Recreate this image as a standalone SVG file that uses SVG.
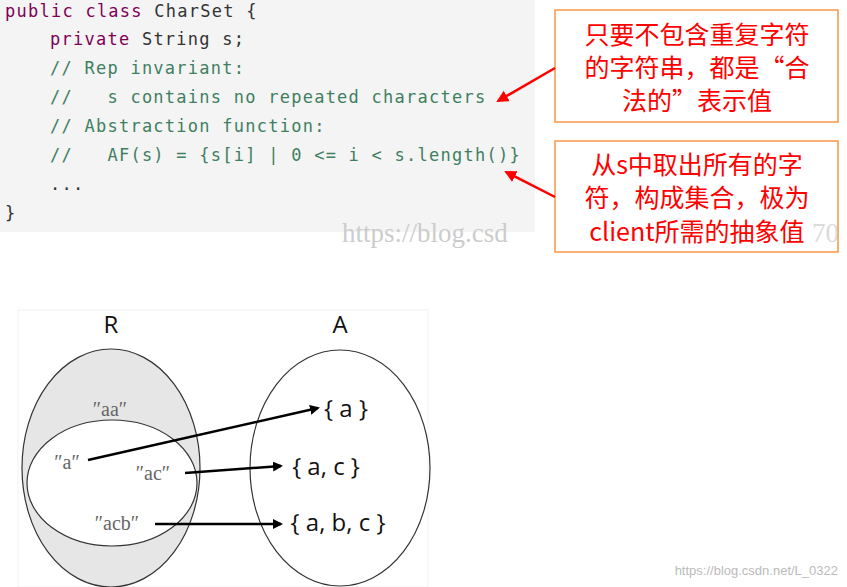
<svg xmlns="http://www.w3.org/2000/svg" width="847" height="587" viewBox="0 0 847 587">
<style>
.code{font-family:"DejaVu Sans Mono",monospace;font-size:17px;letter-spacing:1.25px;fill:#333}
.kw{fill:#7f0055}.cm{fill:#3f7f5f}
.box{fill:#fff;stroke:#f79646;stroke-width:1.5}
.cn{font-family:"Noto Sans CJK SC",sans-serif;font-size:25px;fill:#f00;text-anchor:middle}
.lbl{font-family:"Open Sans","Noto Sans",sans-serif;font-size:24px;fill:#111;text-anchor:middle}
.el{font-family:"Liberation Serif",serif;font-size:20px;fill:#666;text-anchor:middle}
.ar{stroke:#000;stroke-width:2.5;fill:none}
.rar{stroke:#f00;stroke-width:2.5;fill:none}
</style>
<defs>
<marker id="ah" markerWidth="10" markerHeight="10" refX="8" refY="5" orient="auto" markerUnits="userSpaceOnUse"><path d="M0,0L10,5L0,10z" fill="#000"/></marker>
<marker id="rh" markerWidth="12" markerHeight="12" refX="10" refY="6" orient="auto" markerUnits="userSpaceOnUse"><path d="M0,0L12,6L0,12z" fill="#f00"/></marker>
</defs>
<rect width="847" height="587" fill="#fff"/>
<rect x="0" y="0" width="535" height="232" fill="#f4f4f4"/>
<g id="code">
<text class="code" x="5" y="17"><tspan class="kw">public class</tspan> CharSet {</text>
<text class="code" x="50" y="45"><tspan class="kw">private</tspan> String s;</text>
<text class="code cm" x="50" y="74">// Rep invariant:</text>
<text class="code cm" x="50" y="103" xml:space="preserve">//   s contains no repeated characters</text>
<text class="code cm" x="50" y="132">// Abstraction function:</text>
<text class="code cm" x="50" y="161" xml:space="preserve">//   AF(s) = {s[i] | 0 &lt;= i &lt; s.length()}</text>
<text class="code" x="50" y="190">...</text>
<text class="code" x="5" y="219">}</text>
</g>
<text x="342" y="242" font-family="Liberation Serif,serif" font-size="27" fill="#ccc">https://blog.csd</text>
<g id="box1"><rect class="box" x="555" y="10" width="283" height="112"/>
<text class="cn" x="697" y="44">只要不包含重复字符</text>
<text class="cn" x="697" y="77">的字符串，都是“合</text>
<text class="cn" x="697" y="110">法的”表示值</text></g>
<g id="box2"><rect class="box" x="555" y="141" width="283" height="111"/>
<text class="cn" x="697" y="174">从s中取出所有的字</text>
<text class="cn" x="697" y="207">符，构成集合，极为</text>
<text class="cn" x="697" y="241">client所需的抽象值</text></g>
<text x="812" y="242" font-family="Liberation Serif,serif" font-size="27" fill="#ccc" opacity="0.7">70</text>
<rect x="18" y="310" width="410" height="277" fill="none" stroke="#f2f2f2"/>
<g id="R"><ellipse cx="111" cy="468" rx="89" ry="119" fill="#e6e6e6" stroke="#333" stroke-width="1.2"/>
<ellipse cx="112" cy="483" rx="85" ry="63" fill="#fff" stroke="#333" stroke-width="1.2"/>
<text class="lbl" x="111" y="333">R</text>
<text class="el" x="110" y="416">″aa″</text>
<text class="el" x="67" y="469">″a″</text>
<text class="el" x="153" y="480">″ac″</text>
<text class="el" x="117" y="530">″acb″</text></g>
<g id="A"><ellipse cx="340" cy="468" rx="90" ry="118" fill="none" stroke="#333" stroke-width="1.2"/>
<text class="lbl" x="340" y="333">A</text>
<text class="lbl" x="346" y="417">{ a }</text>
<text class="lbl" x="326" y="475">{ a, c }</text>
<text class="lbl" x="338" y="531">{ a, b, c }</text></g>
<g id="connectors">
<line class="ar" x1="88" y1="460" x2="318" y2="408" marker-end="url(#ah)"/>
<line class="ar" x1="185" y1="473" x2="281" y2="466" marker-end="url(#ah)"/>
<line class="ar" x1="155" y1="524" x2="281" y2="524" marker-end="url(#ah)"/>
<line class="rar" x1="555" y1="68" x2="498" y2="101" marker-end="url(#rh)"/>
<line class="rar" x1="555" y1="197" x2="506" y2="172" marker-end="url(#rh)"/>
</g>
<text x="838" y="575" font-family="Liberation Sans,sans-serif" font-size="13" fill="#bbb" text-anchor="end">https://blog.csdn.net/L_0322</text>
</svg>
